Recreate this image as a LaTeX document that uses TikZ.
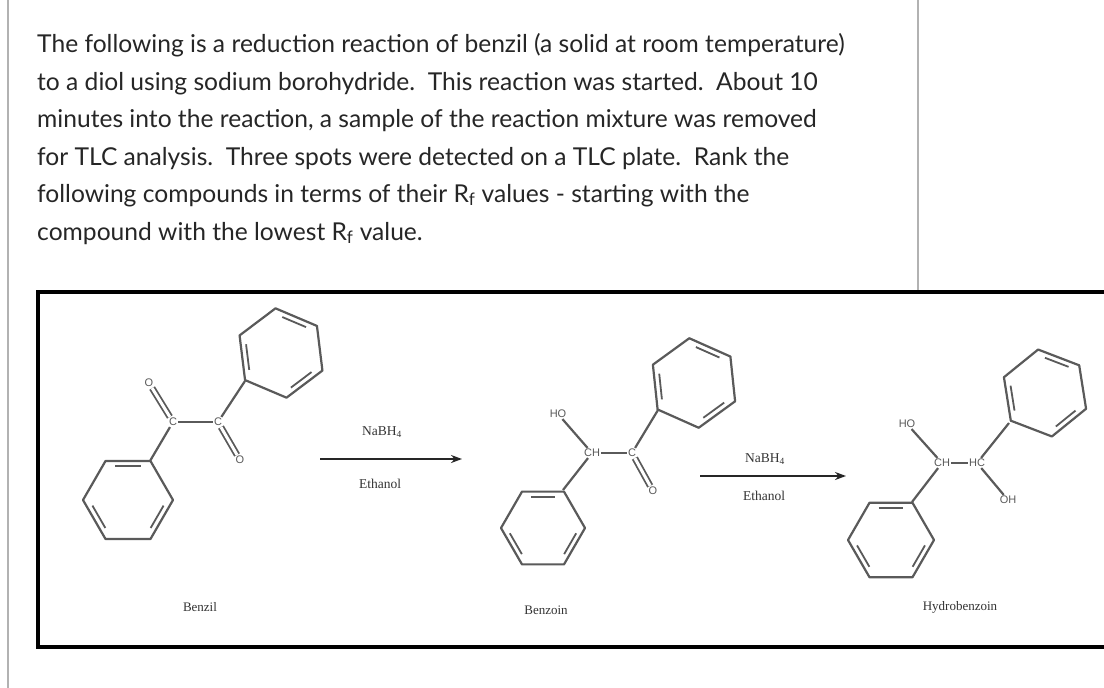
\documentclass[tikz,border=0pt]{standalone}
\usepackage{fontspec}
\setmainfont{Lato}
\newfontfamily\chemserif{Liberation Serif}
\newfontfamily\chemsans{Liberation Sans}
\usetikzlibrary{arrows.meta}
\definecolor{bondc}{HTML}{5A5A5A}
\tikzset{
 bond/.style={draw=bondc,line width=2.2pt,line join=round},
 dbl/.style={draw=bondc,line width=1.8pt,double,double distance=3pt},
 atom/.style={font=\chemsans\fontsize{11}{11}\selectfont,text=bondc,inner sep=1pt},
 cname/.style={font=\chemserif\fontsize{13}{13}\selectfont,text=black!80},
 reag/.style={font=\chemserif\fontsize{13.5}{14}\selectfont,text=black!80},
 txt/.style={anchor=base west,font=\fontsize{24.6}{28}\selectfont,text=black!85,inner sep=0pt},
 rarrow/.style={draw=black!85,line width=2.2pt,-{Stealth[length=11pt,width=8pt]}}
}
\newcommand\benzring[4]{%
 \draw[bond] ([shift={(#1,#2)}]#4:#3)
   \foreach \k in {1,...,5}{ -- ([shift={(#1,#2)}]{#4+60*\k}:#3)} -- cycle;
 \foreach \k in {0,2,4}{\draw[bond,line width=1.8pt] ([shift={(#1,#2)}]{#4+60*\k+9}:{0.8*#3}) -- ([shift={(#1,#2)}]{#4+60*\k+51}:{0.8*#3});}}
\begin{document}
\begin{tikzpicture}[x=1pt,y=-1pt]
\useasboundingbox (0,0) rectangle (1104,688);
\fill[white] (0,0) rectangle (1104,688);
\draw[black!30,line width=1.5pt] (8,0) -- (8,688);
\draw[black!30,line width=1.5pt] (918,0) -- (918,291);
\node[txt] (l1) at (37,52) {The following is a reduction reaction of benzil (a solid at room temperature)};
\node[txt] (l2) at (37,90) {to a diol using sodium borohydride.\ \ This reaction was started.\ \ About 10};
\node[txt] (l3) at (37,127) {minutes into the reaction, a sample of the reaction mixture was removed};
\node[txt] (l4) at (37,165) {for TLC analysis.\ \ Three spots were detected on a TLC plate.\ \ Rank the};
\node[txt] (l5) at (37,202) {following compounds in terms of their R\textsubscript{f} values - starting with the};
\node[txt] (l6) at (37,240) {compound with the lowest R\textsubscript{f} value.};
\draw[black,line width=3.2pt] (38,292) rectangle (1112,647);
% Benzil
\benzring{128}{500}{45}{0}
\benzring{281}{353}{45}{143}
\coordinate (r1a) at (150,461);
\coordinate (r1b) at (245,381);
\node[atom] (c1) at (173,422) {C};
\node[atom] (c2) at (218,422) {C};
\node[atom] (o1) at (149,383) {O};
\node[atom] (o2) at (240,460) {O};
\draw[bond] (r1a) -- (c1); \draw[bond] (c1) -- (c2); \draw[bond] (c2) -- (r1b);
\draw[dbl] (c1) -- (o1); \draw[dbl] (c2) -- (o2);
\node[cname] (n1) at (200,607) {Benzil};
% arrow 1
\coordinate (a1s) at (320,459); \coordinate (a1e) at (462,459);
\draw[rarrow] (a1s) -- (a1e);
\node[reag] (g1) at (382,432) {NaBH\textsubscript{4}};
\node[reag] (e1) at (380,484) {Ethanol};
% Benzoin
\benzring{543}{528}{42}{0}
\benzring{694}{383}{45}{144}
\coordinate (r2a) at (563,490);
\coordinate (r2b) at (658,410);
\node[atom] (ch2) at (592,453) {CH};
\node[atom] (ho2) at (558,414) {HO};
\node[atom] (c3) at (632,453) {C};
\node[atom] (o3) at (653,491) {O};
\draw[bond] (r2a) -- (ch2); \draw[bond] (ch2) -- (ho2); \draw[bond] (ch2) -- (c3);
\draw[bond] (c3) -- (r2b); \draw[dbl] (c3) -- (o3);
\node[cname] (n2) at (546,610) {Benzoin};
% arrow 2
\coordinate (a2s) at (700,476); \coordinate (a2e) at (846,476);
\draw[rarrow] (a2s) -- (a2e);
\node[reag] (g2) at (765,459) {NaBH\textsubscript{4}};
\node[reag] (e2) at (764,496) {Ethanol};
% Hydrobenzoin
\benzring{891}{540}{43}{0}
\benzring{1045}{393}{44}{141}
\coordinate (r3a) at (912,502);
\coordinate (r3b) at (1009,423);
\node[atom] (ch3) at (942,463) {CH};
\node[atom] (ho3) at (907,424) {HO};
\node[atom] (hc3) at (977,463) {HC};
\node[atom] (oh3) at (1008,500) {OH};
\draw[bond] (r3a) -- (ch3); \draw[bond] (ch3) -- (ho3); \draw[bond] (ch3) -- (hc3);
\draw[bond] (hc3) -- (r3b); \draw[bond] (hc3) -- (oh3);
\node[cname] (n3) at (960,607) {Hydrobenzoin};
\end{tikzpicture}
\end{document}
